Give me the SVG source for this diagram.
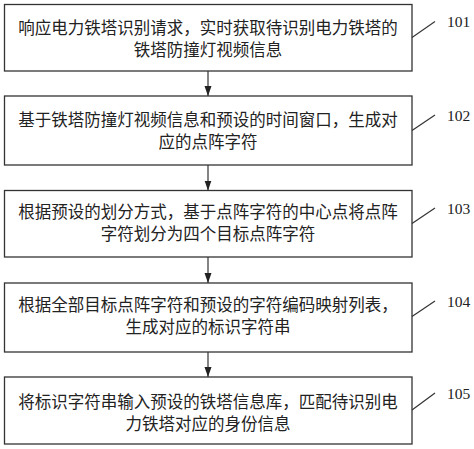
<svg xmlns="http://www.w3.org/2000/svg" width="474" height="449" viewBox="0 0 474 449">
<style>
.box{fill:#fff;stroke:#333;stroke-width:1.3}
.t{font-family:"Noto Sans CJK SC","Noto Sans CJK JP",sans-serif;font-size:16.5px;fill:#222;text-anchor:middle}
.lbl{font-family:"Liberation Serif",serif;font-size:15.5px;fill:#222}
.ln{stroke:#333;stroke-width:1.2;fill:none}
.arr{stroke:#333;stroke-width:1.2;fill:none;marker-end:url(#ah)}
</style>
<defs>
<marker id="ah" markerWidth="10" markerHeight="8" refX="10" refY="4" orient="auto" markerUnits="userSpaceOnUse" viewBox="0 0 10 8">
<path d="M0,0.5 L10,4 L0,7.5 Z" fill="#222"/>
</marker>
</defs>
<rect width="474" height="449" fill="#fff"/>
<g id="connectors">
<path class="arr" d="M208,71 V96"/>
<path class="arr" d="M208,165 V190.5"/>
<path class="arr" d="M208,257 V283"/>
<path class="arr" d="M208,352 V377"/>
</g>
<g id="n101">
<rect class="box" x="4.5" y="4.5" width="407.5" height="66.5"/>
<text class="t" x="208" y="34">响应电力铁塔识别请求，实时获取待识别电力铁塔的</text>
<text class="t" x="208" y="56">铁塔防撞灯视频信息</text>
<line class="ln" x1="412" y1="37.5" x2="435" y2="21.5"/>
<text class="lbl" x="447" y="27">101</text>
</g>
<g id="n102">
<rect class="box" x="4.5" y="96" width="407.5" height="69"/>
<text class="t" x="208" y="126">基于铁塔防撞灯视频信息和预设的时间窗口，生成对</text>
<text class="t" x="208" y="148">应的点阵字符</text>
<line class="ln" x1="412" y1="130.5" x2="435" y2="115"/>
<text class="lbl" x="447" y="120.5">102</text>
</g>
<g id="n103">
<rect class="box" x="4.5" y="190.5" width="407.5" height="66.5"/>
<text class="t" x="208" y="217.5">根据预设的划分方式，基于点阵字符的中心点将点阵</text>
<text class="t" x="208" y="239.5">字符划分为四个目标点阵字符</text>
<line class="ln" x1="412" y1="223.5" x2="435" y2="208"/>
<text class="lbl" x="447" y="214">103</text>
</g>
<g id="n104">
<rect class="box" x="4.5" y="283" width="407.5" height="69"/>
<text class="t" x="208" y="311">根据全部目标点阵字符和预设的字符编码映射列表，</text>
<text class="t" x="208" y="333">生成对应的标识字符串</text>
<line class="ln" x1="412" y1="316.5" x2="435" y2="301"/>
<text class="lbl" x="447" y="306.5">104</text>
</g>
<g id="n105">
<rect class="box" x="4.5" y="377" width="407.5" height="67"/>
<text class="t" x="208" y="407.5">将标识字符串输入预设的铁塔信息库，匹配待识别电</text>
<text class="t" x="208" y="429.5">力铁塔对应的身份信息</text>
<line class="ln" x1="412" y1="410" x2="435" y2="393"/>
<text class="lbl" x="447" y="398.5">105</text>
</g>
</svg>
